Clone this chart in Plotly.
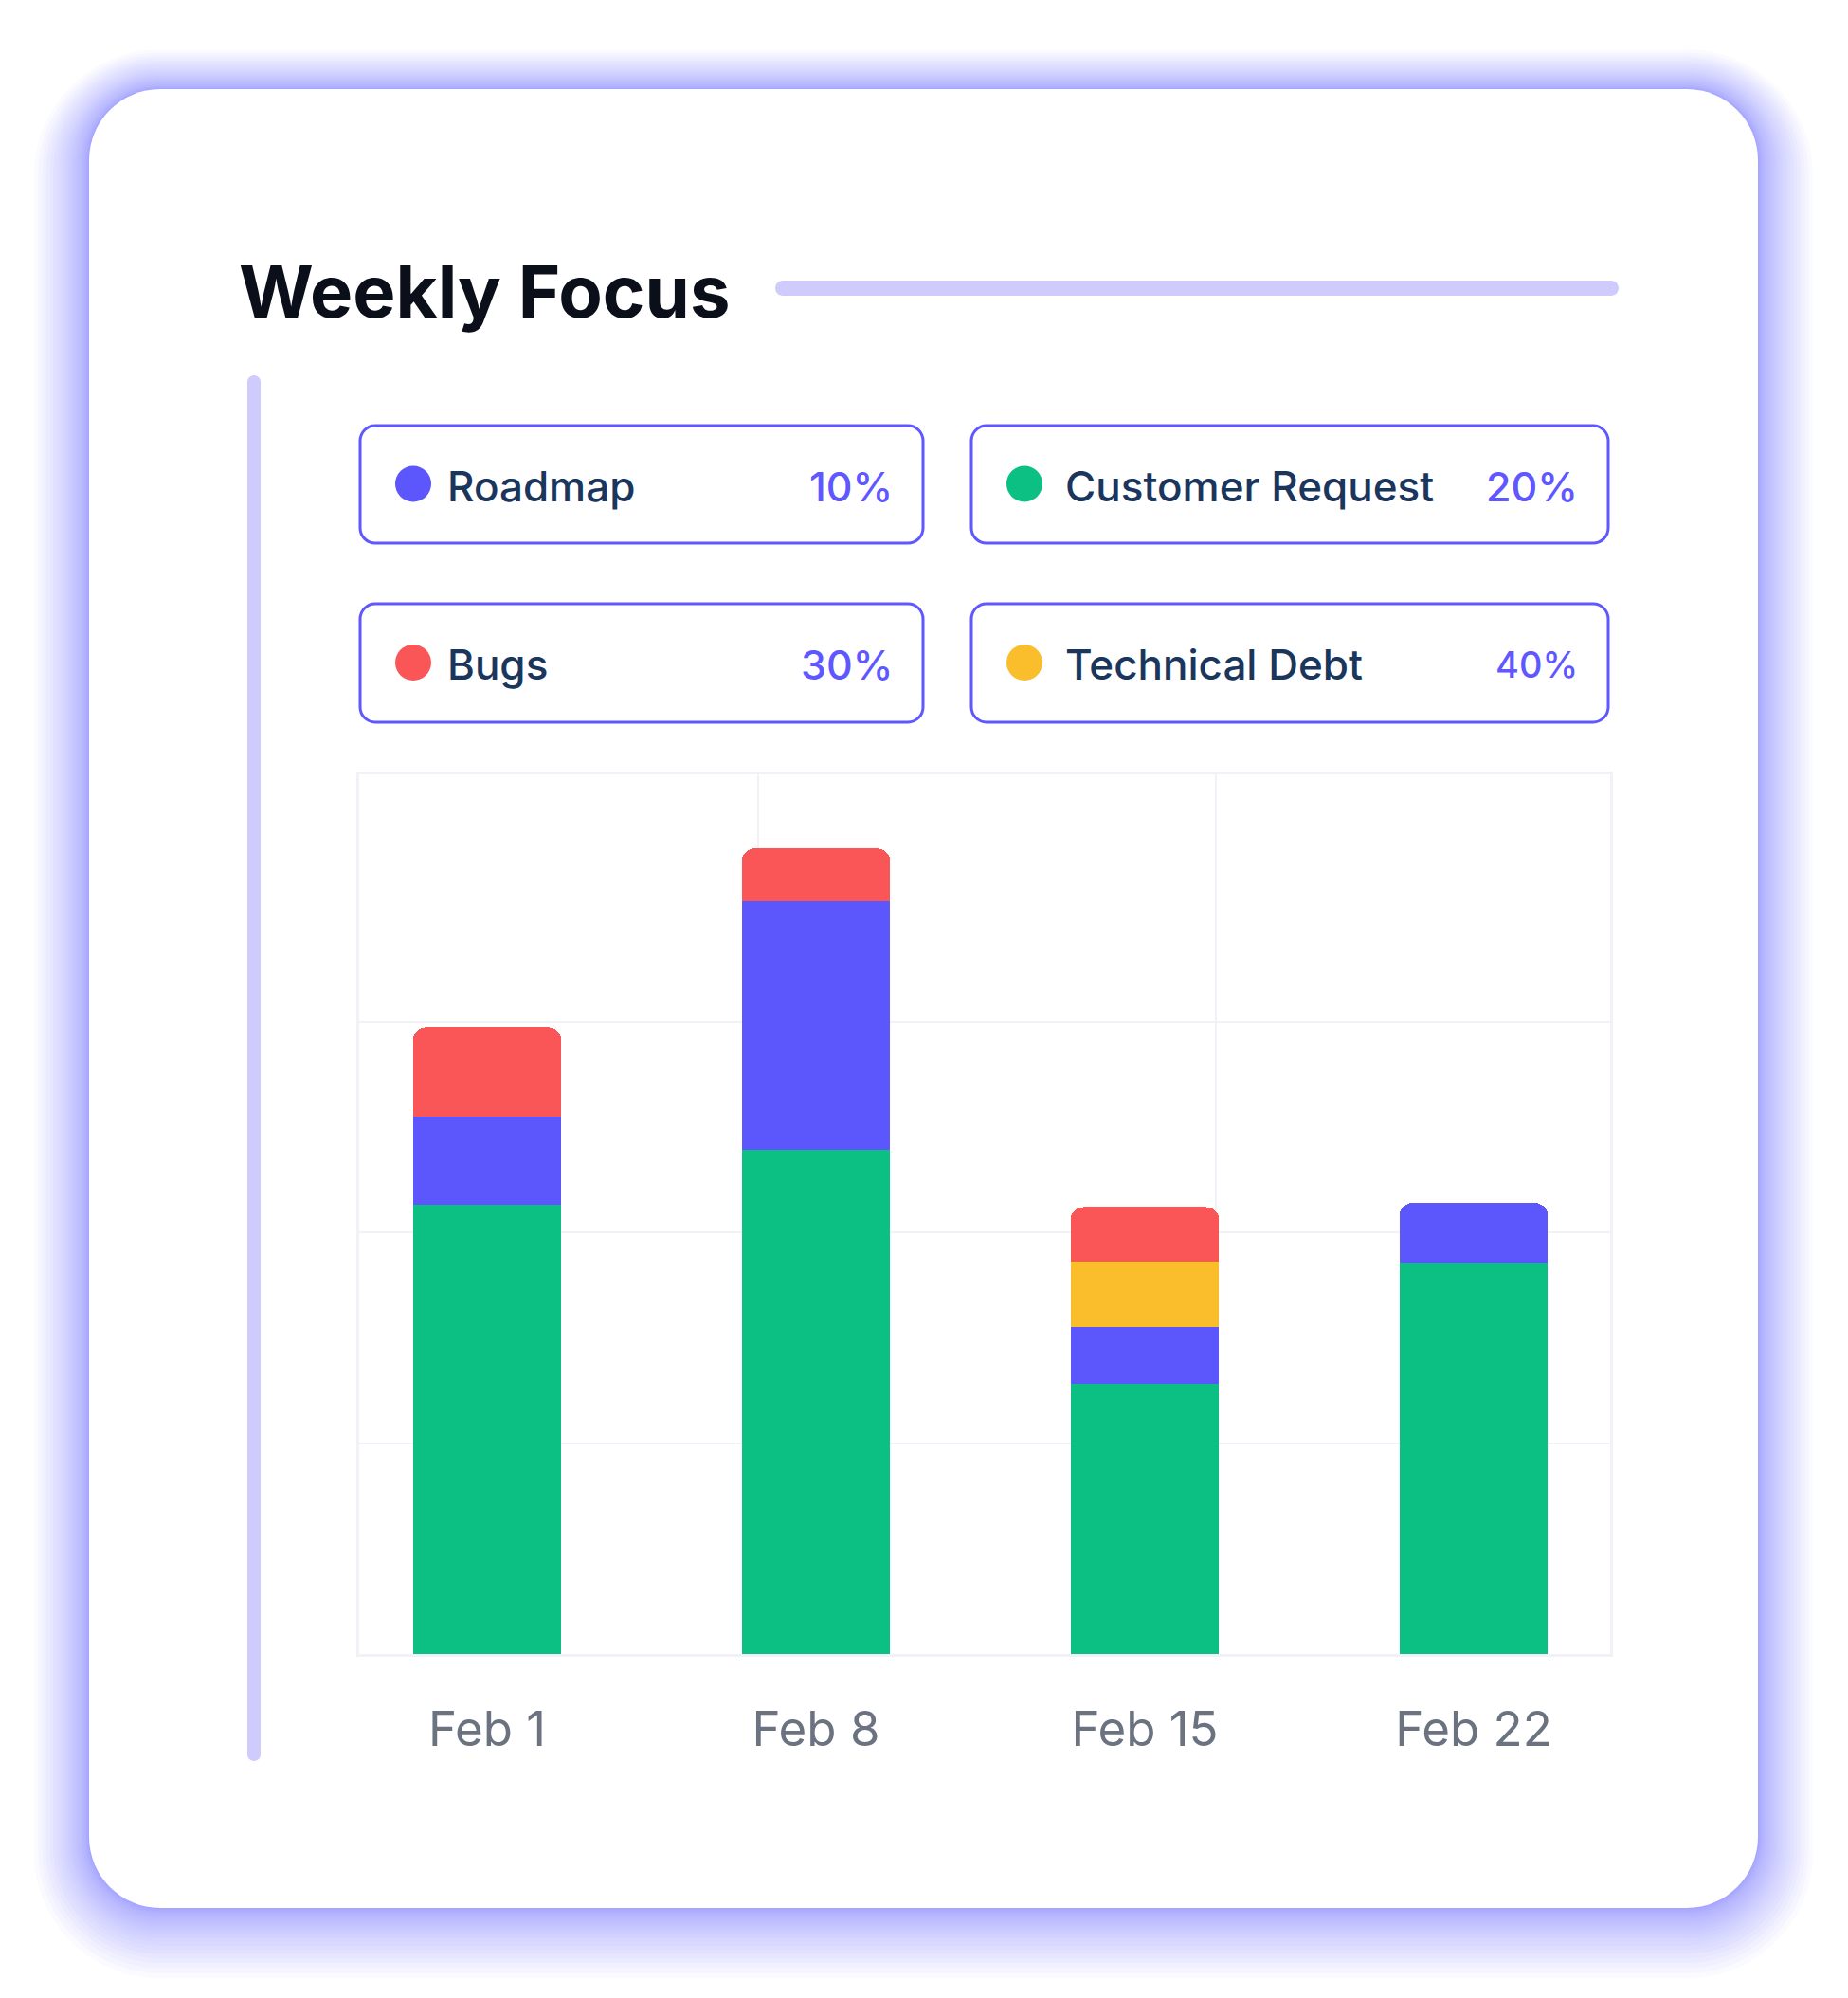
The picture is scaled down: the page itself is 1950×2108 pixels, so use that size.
import plotly.graph_objects as go

# ---------------- data ----------------
weeks = ["Feb 1", "Feb 8", "Feb 15", "Feb 22"]
customer_request = [21.3, 23.9, 12.8, 18.5]
roadmap = [4.2, 11.8, 2.7, 2.9]
technical_debt = [None, None, 3.1, None]
bugs = [4.2, 2.5, 2.6, None]
y_grid_values = [0, 10, 20, 30]

legend_names = ["Roadmap", "Customer Request", "Bugs", "Technical Debt"]
legend_pcts = ["10%", "20%", "30%", "40%"]

title_text = "Weekly Focus"

# ---------------- styles ----------------
GREEN = "#0CBF83"
BLUE = "#5C57FD"
YELLOW = "#FABD2B"
RED = "#FA5557"
ACCENT = "#5F57FF"
NAVY = "#1B365D"
LAVENDER = "#CFCCFD"
GRID = "#F1F1F7"
legend_colors = [BLUE, GREEN, RED, YELLOW]
pct_font_sizes = [43, 43, 43, 38]
name_x_offsets = [90, 97, 90, 97]

W, H = 1950, 2108


def px(x):
    return x / W


def py(y):
    return 1 - y / H


def rrect(x0, y0, x1, y1, r):
    k = 0.5523 * r
    pts = [
        ("M", [(x0 + r, y0)]),
        ("L", [(x1 - r, y0)]),
        ("C", [(x1 - r + k, y0), (x1, y0 + r - k), (x1, y0 + r)]),
        ("L", [(x1, y1 - r)]),
        ("C", [(x1, y1 - r + k), (x1 - r + k, y1), (x1 - r, y1)]),
        ("L", [(x0 + r, y1)]),
        ("C", [(x0 + r - k, y1), (x0, y1 - r + k), (x0, y1 - r)]),
        ("L", [(x0, y0 + r)]),
        ("C", [(x0, y0 + r - k), (x0 + r - k, y0), (x0 + r, y0)]),
    ]
    s = ""
    for cmd, ps in pts:
        s += cmd + " " + " ".join(f"{px(a):.6f},{py(b):.6f}" for a, b in ps) + " "
    return s + "Z"


shapes = []

# glow around card
cx0, cy0, cx1, cy1, cr = 94, 94, 1855, 2013, 75
N = 26
for i in range(N, 0, -1):
    d = 58 * (i / N) ** 2
    off = d * 0.28
    shapes.append(dict(type="path", xref="paper", yref="paper", layer="below",
                       path=rrect(cx0 - d, cy0 - d + off, cx1 + d, cy1 + d + off, cr + d),
                       fillcolor="rgba(118,108,255,0.034)", line=dict(width=0)))
# card
shapes.append(dict(type="path", xref="paper", yref="paper", layer="below",
                   path=rrect(cx0, cy0, cx1, cy1, cr), fillcolor="white",
                   line=dict(width=0)))
# title line
shapes.append(dict(type="path", xref="paper", yref="paper", layer="below",
                   path=rrect(818, 296, 1708, 312, 8), fillcolor=LAVENDER,
                   line=dict(width=0)))
# left vertical line
shapes.append(dict(type="path", xref="paper", yref="paper", layer="below",
                   path=rrect(261, 396, 275, 1858, 7), fillcolor=LAVENDER,
                   line=dict(width=0)))

annotations = []
annotations.append(dict(text=f"<b>{title_text}</b>", xref="paper", yref="paper",
                        x=px(250), y=py(307), xanchor="left", yanchor="middle",
                        showarrow=False,
                        font=dict(family="Inter", size=76, color="#0B0F1A")))

# legend boxes
box_cols = [(380, 974), (1025, 1697)]
box_rows = [(449, 573), (637, 762)]
for idx, (name, pct, col) in enumerate(zip(legend_names, legend_pcts, legend_colors)):
    r_i, c_i = divmod(idx, 2)
    bx0, bx1 = box_cols[c_i]
    by0, by1 = box_rows[r_i]
    shapes.append(dict(type="path", xref="paper", yref="paper", layer="below",
                       path=rrect(bx0, by0, bx1, by1, 16), fillcolor="white",
                       line=dict(color=ACCENT, width=3)))
    dcx = bx0 + 56
    dcy = (by0 + by1) / 2 - 0.5
    rr = 19
    shapes.append(dict(type="circle", xref="paper", yref="paper", layer="below",
                       x0=px(dcx - rr), x1=px(dcx + rr), y0=py(dcy + rr), y1=py(dcy - rr),
                       fillcolor=col, line=dict(width=0)))
    annotations.append(dict(text=name, xref="paper", yref="paper",
                            x=px(bx0 + name_x_offsets[idx]), y=py(dcy + 2),
                            xanchor="left", yanchor="middle", showarrow=False,
                            font=dict(family="Inter", size=44, color=NAVY, weight=500)))
    annotations.append(dict(text=pct, xref="paper", yref="paper",
                            x=px(bx1 - 30), y=py(dcy + 2), xanchor="right", yanchor="middle",
                            showarrow=False,
                            font=dict(family="Inter", size=pct_font_sizes[idx],
                                      color=ACCENT, weight=500)))

# plot area geometry
PL, PR, PT, PB = 379, 1699, 817, 1745
# vertical grid lines
for gx in (800, 1283):
    shapes.append(dict(type="line", xref="paper", yref="paper", layer="below",
                       x0=px(gx), x1=px(gx), y0=py(PB), y1=py(PT),
                       line=dict(color=GRID, width=2)))

fig = go.Figure()
series = [("Customer Request", customer_request, GREEN),
          ("Roadmap", roadmap, BLUE),
          ("Technical Debt", technical_debt, YELLOW),
          ("Bugs", bugs, RED)]
for name, vals, col in series:
    fig.add_trace(go.Bar(x=weeks, y=vals, name=name, width=0.452,
                         marker=dict(color=col, line=dict(width=0))))

fig.update_layout(
    width=W, height=H,
    margin=dict(l=0, r=0, t=0, b=0),
    paper_bgcolor="white",
    plot_bgcolor="rgba(0,0,0,0)",
    barmode="stack",
    barcornerradius=14,
    showlegend=False,
    shapes=shapes,
    annotations=annotations,
    xaxis=dict(domain=[px(PL), px(PR)], range=[-0.389, 3.415], showgrid=False,
               showline=True, mirror=True, linecolor=GRID, linewidth=3,
               ticks="", ticklabelstandoff=33,
               tickfont=dict(family="Inter", size=51, color="#6B7280"),
               fixedrange=True),
    yaxis=dict(domain=[py(PB), py(PT)], range=[0, 41.72], tickvals=y_grid_values,
               showgrid=True, gridcolor=GRID, gridwidth=2,
               showline=True, mirror=True, linecolor=GRID, linewidth=3,
               zeroline=False, showticklabels=False, ticks="", fixedrange=True),
)

fig.write_html("out.html")
